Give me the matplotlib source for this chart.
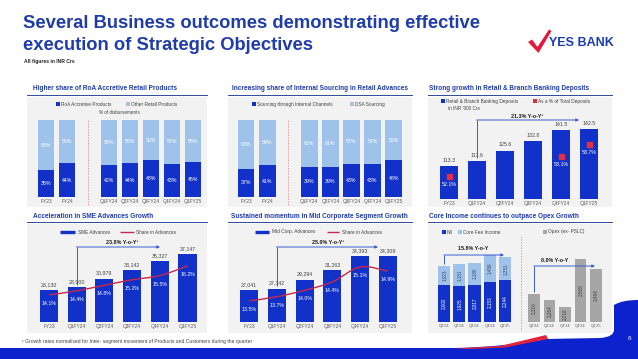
import matplotlib
matplotlib.use('Agg')
import matplotlib.pyplot as plt
from matplotlib.patches import Rectangle, PathPatch, Polygon
from matplotlib.path import Path
from matplotlib.lines import Line2D
import numpy as np

plt.rcParams['font.family'] = ['Liberation Sans', 'DejaVu Sans']

# ---------------- data ----------------
p1_cats = ['FY23', 'FY24', 'Q1FY24', 'Q2FY24', 'Q3FY24', 'Q4FY24', 'Q1FY25']
p1_roa = [35, 44, 42, 44, 48, 43, 45]
p1_other = [65, 56, 58, 56, 52, 57, 55]

p2_cats = ['FY23', 'FY24', 'Q1FY24', 'Q2FY24', 'Q3FY24', 'Q4FY24', 'Q1FY25']
p2_internal = [37, 41, 39, 39, 43, 43, 48]
p2_dsa = [63, 59, 61, 61, 57, 57, 52]

p3_cats = ['FY23', 'Q1FY24', 'Q2FY24', 'Q3FY24', 'Q4FY24', 'Q1FY25']
p3_deposits = [113.3, 117.6, 125.6, 132.8, 141.5, 142.5]
p3_share = [52.1, np.nan, np.nan, np.nan, 53.1, 53.7]

p4_cats = ['FY23', 'Q1FY24', 'Q2FY24', 'Q3FY24', 'Q4FY24', 'Q1FY25']
p4_sme = [28130, 28900, 30979, 33142, 35327, 37147]
p4_share = [14.1, 14.4, 14.8, 15.2, 15.5, 16.2]

p5_cats = ['FY23', 'Q1FY24', 'Q2FY24', 'Q3FY24', 'Q4FY24', 'Q1FY25']
p5_midcorp = [27041, 27342, 29294, 31263, 34393, 34309]
p5_share = [13.5, 13.7, 14.0, 14.4, 15.1, 14.9]

p6_cats = ["Q1'24", "Q2'24", "Q3'24", "Q4'24", "Q1'25"]
p6_nii = [2002, 1925, 2017, 2153, 2244]
p6_fee = [1023, 1181, 1180, 1456, 1251]
p6_opex = [2310, 2264, 2216, 2565, 2494]

yoy_labels = ['21.3% Y-o-Y\u00b9', '23.8% Y-o-Y\u00b9', '25.0% Y-o-Y\u00b9', '15.8% Y-o-Y', '8.0% Y-o-Y']

# ---------------- style ----------------
BLUE = '#1131c9'
LBLUE = '#9ec2ea'
GREY = '#a6a6a6'
RED = '#c9284c'
SQRED = '#e3303f'
TITLE = '#1f3caa'
TXT = '#404040'
AC = '#3a5bd0'
BAND = '#0c22cc'
BOX = '#f2f2f2'

W, H = 638, 359
fig = plt.figure(figsize=(W / 100, H / 100), dpi=100)
fig.patch.set_facecolor('white')


def fx(x):
    return x / W


def fy(y):
    return 1 - y / H


def rect(x0, y0, x1, y1, color, z=-1):
    fig.patches.append(Rectangle((fx(x0), fy(y1)), (x1 - x0) / W, (y1 - y0) / H,
                                 transform=fig.transFigure, facecolor=color,
                                 edgecolor='none', zorder=z))


def ftext(x, y, s, **kw):
    fig.text(fx(x), fy(y), s, **kw)


def fline(xs, ys, **kw):
    fig.add_artist(Line2D([fx(v) for v in xs], [fy(v) for v in ys],
                          transform=fig.transFigure, **kw))


def axpx(x0, y0, x1, y1):
    ax = fig.add_axes([fx(x0), fy(y1), (x1 - x0) / W, (y1 - y0) / H])
    ax.set_facecolor('none')
    for s in ax.spines.values():
        s.set_visible(False)
    ax.tick_params(length=0, pad=1.6)
    ax.set_yticks([])
    return ax


def data_from_px(ax, xpx, ypx):
    return ax.transData.inverted().transform((xpx, H - ypx))


def leg_sq(x, y, color, label):
    rect(x - 1.6, y - 1.6, x + 1.6, y + 1.6, color, z=2)
    ftext(x + 3, y, label, fontsize=3.4, color=TXT, va='center', ha='left')


def leg_line(x0, x1, y, color, lw, label):
    fline([x0, x1], [y, y], color=color, lw=lw, solid_capstyle='butt')
    ftext(x1 + 2.5, y, label, fontsize=3.4, color=TXT, va='center', ha='left')


def smooth_path(xs, ys):
    P = np.column_stack([xs, ys]).astype(float)
    n = len(P)
    verts = [P[0]]
    codes = [Path.MOVETO]
    for i in range(n - 1):
        p0 = P[i - 1] if i > 0 else P[i]
        p1 = P[i]
        p2 = P[i + 1]
        p3 = P[i + 2] if i + 2 < n else P[i + 1]
        verts += [p1 + (p2 - p0) / 6, p2 - (p3 - p1) / 6, p2]
        codes += [Path.CURVE4] * 3
    return Path(verts, codes)


def yoy_arrow(ax, x0, ybar, xend_px, ytop_px, label, lx_px, ly_px):
    ytop = data_from_px(ax, 0, ytop_px)[1]
    xend = data_from_px(ax, xend_px, 0)[0]
    lx, ly = data_from_px(ax, lx_px, ly_px)
    gap = (ax.get_ylim()[1] - ax.get_ylim()[0]) * 0.025
    ax.plot([x0, x0], [ybar + gap, ytop], color=AC, lw=0.7, clip_on=False,
            solid_capstyle='butt', zorder=5)
    ax.annotate('', xy=(xend, ytop), xytext=(x0 - 0.01, ytop),
                arrowprops=dict(arrowstyle='-|>', color=AC, lw=0.7,
                                mutation_scale=4, shrinkA=0, shrinkB=0),
                annotation_clip=False, zorder=5)
    ax.text(lx, ly, label, fontsize=3.9, fontweight='bold', color='#1a1a1a',
            ha='center', va='center', zorder=6)


# ---------------- header ----------------
ftext(23, 24, 'Several Business outcomes demonstrating effective', fontsize=13.2,
      fontweight='bold', color=TITLE, va='center', ha='left')
ftext(23, 45, 'execution of Strategic Objectives', fontsize=13.2,
      fontweight='bold', color=TITLE, va='center', ha='left')
ftext(24, 61, 'All figures in INR Crs', fontsize=3.6, fontweight='bold',
      color='#222222', va='center', ha='left')

# logo
check = [(528, 42), (532, 39.5), (537.5, 47), (549, 29.5), (551.5, 31), (538.5, 53)]
fig.patches.append(Polygon([(fx(a), fy(b)) for a, b in check], closed=True,
                           transform=fig.transFigure, facecolor='#e3193b',
                           edgecolor='none', zorder=3))
ftext(549, 42.5, 'YES BANK', fontsize=9.0, fontweight='bold', color='#1b3bb3',
      va='center', ha='left')

# ---------------- panel frames ----------------
panels = [
    (27, 207, 33, 89, 95, 97, 207, 'Higher share of RoA Accretive Retail Products'),
    (228, 412, 232, 89, 95, 97, 207, 'Increasing share of Internal Sourcing in Retail Advances'),
    (428, 612, 429, 89, 95, 97, 207, 'Strong growth in Retail & Branch Banking Deposits'),
    (27, 207, 33, 216, 222, 224, 333, 'Acceleration in SME Advances Growth'),
    (228, 412, 231, 216, 222, 224, 333, 'Sustained momentum in Mid Corporate Segment Growth'),
    (428, 612, 429, 216, 222, 224, 333, 'Core Income continues to outpace Opex Growth'),
]
for x0, x1, tx, ty, uy, by0, by1, title in panels:
    ftext(tx, ty, title, fontsize=4.7, fontweight='bold', color=TITLE,
          va='center', ha='left')
    fline([x0, x1], [uy, uy], color='#2f4a9a', lw=0.7)
    rect(x0, by0, x1, by1, BOX, z=-1)


# ---------------- panel 1 & 2: stacked % ----------------
def stacked_pct(x0, x1, first_px, step_px, cats, low, high):
    ax = axpx(x0, 120, x1, 197)
    pos = [0, 1, 3, 4, 5, 6, 7]
    ax.bar(pos, low, width=0.8, color=BLUE)
    ax.bar(pos, high, bottom=low, width=0.8, color=LBLUE)
    ax.set_xlim((x0 - first_px) / step_px, (x1 - first_px) / step_px)
    ax.set_ylim(0, 100)
    ax.set_xticks(pos)
    ax.set_xticklabels(cats, fontsize=3.5, color='#595959')
    for p, a, b in zip(pos, low, high):
        ax.text(p, a / 2, f'{a}%', ha='center', va='center', color='white', fontsize=3.8)
        ax.text(p, a + b / 2, f'{b}%', ha='center', va='center', color='white', fontsize=3.8)
    ax.axvline(2, ymin=-0.1, ymax=1.01, clip_on=False, color='#e07070', lw=0.5,
               ls=(0, (2, 2)))
    return ax


ax1 = stacked_pct(27, 207, 46, 21.0, p1_cats, p1_roa, p1_other)
leg_sq(58, 104, BLUE, 'RoA Accretive Products')
leg_sq(128, 104, LBLUE, 'Other Retail Products')
ftext(119, 113, '% of disbursements', fontsize=3.3, color=TXT, ha='center', va='center')

ax2 = stacked_pct(228, 412, 246, 21.1, p2_cats, p2_internal, p2_dsa)
leg_sq(254, 104, BLUE, 'Sourcing through Internal Channels')
leg_sq(352, 104, LBLUE, 'DSA Sourcing')

# ---------------- panel 3 ----------------
ax3 = axpx(428, 110, 612, 199)
x3 = np.arange(len(p3_cats))
ax3.bar(x3, p3_deposits, width=0.64, color=BLUE)
ax3.set_xlim((428 - 449) / 28, (612 - 449) / 28)
ax3.set_ylim(87.3, 87.3 + 89 * 0.79)
ax3.set_xticks(x3)
ax3.set_xticklabels(p3_cats, fontsize=3.5, color='#595959')
for i, v in enumerate(p3_deposits):
    ax3.annotate(f'{v:.1f}', (i, v), xytext=(0, 2.2), textcoords='offset points',
                 ha='center', va='bottom', fontsize=3.8, color=TXT)
ax3b = ax3.twinx()
ax3b.set_ylim(50.95, 50.95 + 89 / 20)
ax3b.set_yticks([])
for s in ax3b.spines.values():
    s.set_visible(False)
ax3b.plot(x3, p3_share, ls='none', marker='s', ms=3.6, color=SQRED)
for i, v in enumerate(p3_share):
    if not np.isnan(v):
        ax3b.annotate(f'{v:.1f}%', (i, v), xytext=(0, -5.8), textcoords='offset points',
                      ha='center', va='center', fontsize=3.8, color='white')
leg_sq(443, 101, BLUE, 'Retail & Branch Banking Deposits')
ftext(448, 108, "in INR '000 Crs", fontsize=3.4, color=TXT, ha='left', va='center')
leg_sq(535, 101, SQRED, 'As a % of Total Deposits')


# ---------------- panel 4 & 5 ----------------
def bar_share(x0, x1, first_px, step_px, cats, vals, share, ybase, perpx, sbase, spx):
    ax = axpx(x0, 230, x1, 322)
    xs = np.arange(len(cats))
    ax.bar(xs, vals, width=0.65, color=BLUE)
    ax.set_xlim((x0 - first_px) / step_px, (x1 - first_px) / step_px)
    ax.set_ylim(ybase, ybase + 92 * perpx)
    ax.set_xticks(xs)
    ax.set_xticklabels(cats, fontsize=3.5, color='#595959')
    for i, v in enumerate(vals):
        ax.annotate(f'{v:,}', (i, v), xytext=(0, 2.2), textcoords='offset points',
                    ha='center', va='bottom', fontsize=3.8, color=TXT)
    axb = ax.twinx()
    axb.set_ylim(sbase, sbase + 92 / spx)
    axb.set_yticks([])
    for s in axb.spines.values():
        s.set_visible(False)
    axb.add_patch(PathPatch(smooth_path(xs, share), fill=False, edgecolor=RED, lw=1.0))
    for i, v in enumerate(share):
        axb.annotate(f'{v:.1f}%', (i, v), xytext=(0, -6.2), textcoords='offset points',
                     ha='center', va='center', fontsize=3.8, color='white')
    return ax


ax4 = bar_share(27, 207, 49, 27.7, p4_cats, p4_sme, p4_share, 20130, 250, 12.14, 13.8)
leg_line(60, 75, 232, BLUE, 2.4, 'SME Advances')
leg_line(120, 134, 232, RED, 1.0, 'Share in Advances')

ax5 = bar_share(228, 412, 249, 27.8, p5_cats, p5_midcorp, p5_share, 20129, 216, 12.51, 21.25)
leg_line(255, 269, 232, BLUE, 2.4, 'Mid Corp. Advances')
leg_line(327, 339, 232, RED, 1.0, 'Share in Advances')

# ---------------- panel 6 ----------------
ax6 = axpx(428, 230, 521, 322)
x6 = np.arange(len(p6_cats))
ax6.bar(x6, p6_nii, width=0.79, color=BLUE)
ax6.bar(x6, p6_fee, bottom=p6_nii, width=0.79, color=LBLUE)
ax6.set_xlim((428 - 444) / 15.25, (521 - 444) / 15.25)
ax6.set_ylim(0, 92 * 54)
ax6.set_xticks(x6)
ax6.set_xticklabels(p6_cats, fontsize=2.9, color='#595959')
for i, (a, b) in enumerate(zip(p6_nii, p6_fee)):
    ax6.text(i, a / 2, f'{a:,}', rotation=90, ha='center', va='center', fontsize=3.3, color='white')
    ax6.text(i, a + b / 2, f'{b:,}', rotation=90, ha='center', va='center', fontsize=3.3, color='#3a4560')

ax7 = axpx(521, 230, 612, 322)
ax7.bar(x6, p6_opex, width=0.77, color=GREY)
ax7.set_xlim((521 - 534) / 15.5, (612 - 534) / 15.5)
ax7.set_ylim(2106, 2106 + 92 * 7.3)
ax7.set_xticks(x6)
ax7.set_xticklabels(p6_cats, fontsize=2.9, color='#595959')
for i, v in enumerate(p6_opex):
    ax7.text(i, 2106 + (v - 2106) / 2, f'{v:,}', rotation=90, ha='center', va='center',
             fontsize=3.3, color='#404040')
fline([521, 521], [236, 331], color='#e07070', lw=0.5, ls=(0, (2, 2)))
leg_sq(444, 232, BLUE, 'NII')
leg_sq(460, 232, LBLUE, 'Core Fee Income')
leg_sq(545, 232, GREY, 'Opex (ex- PSLC)')

# ---------------- growth arrows ----------------
yoy_arrow(ax3, 1, p3_deposits[1], 579, 120, yoy_labels[0], 527, 116)
yoy_arrow(ax4, 1, p4_sme[1], 160, 247, yoy_labels[1], 122, 242)
yoy_arrow(ax5, 1, p5_midcorp[1], 378, 247, yoy_labels[2], 328, 242)
yoy_arrow(ax6, 0, p6_nii[0] + p6_fee[0], 504, 255, yoy_labels[3], 473, 249)
yoy_arrow(ax7, 0, p6_opex[0], 595, 266, yoy_labels[4], 555, 260)

# ---------------- footer ----------------
ftext(22, 341, '\u00b9 Growth rates normalised for Inter- segment movement of Products and Customers during the quarter',
      fontsize=3.6, color=TXT, ha='left', va='center')

band = Path([(0, 348), (455, 348), (505, 347), (545, 339), (600, 338), (614, 337),
             (614, 330), (614, 305), (622, 300), (638, 300), (638, 359), (0, 359), (0, 348)],
            [Path.MOVETO, Path.LINETO, Path.CURVE3, Path.CURVE3, Path.LINETO, Path.CURVE3,
             Path.CURVE3, Path.LINETO, Path.CURVE3, Path.CURVE3, Path.LINETO, Path.LINETO,
             Path.CLOSEPOLY])
band_fig = Path([(fx(a), fy(b)) for a, b in band.vertices], band.codes)
fig.patches.append(PathPatch(band_fig, transform=fig.transFigure, facecolor=BAND,
                             edgecolor='none', zorder=4))
sw = [(455, 348.5), (500, 346), (546, 335), (548, 339), (505, 347.5), (470, 349)]
fig.patches.append(Polygon([(fx(a), fy(b)) for a, b in sw], closed=True,
                           transform=fig.transFigure, facecolor='#e4243f',
                           edgecolor='none', zorder=5))
ftext(629, 339, '6', fontsize=4.5, color='white', ha='center', va='center', zorder=6)

fig.savefig('out.png', dpi=100, facecolor='white')
